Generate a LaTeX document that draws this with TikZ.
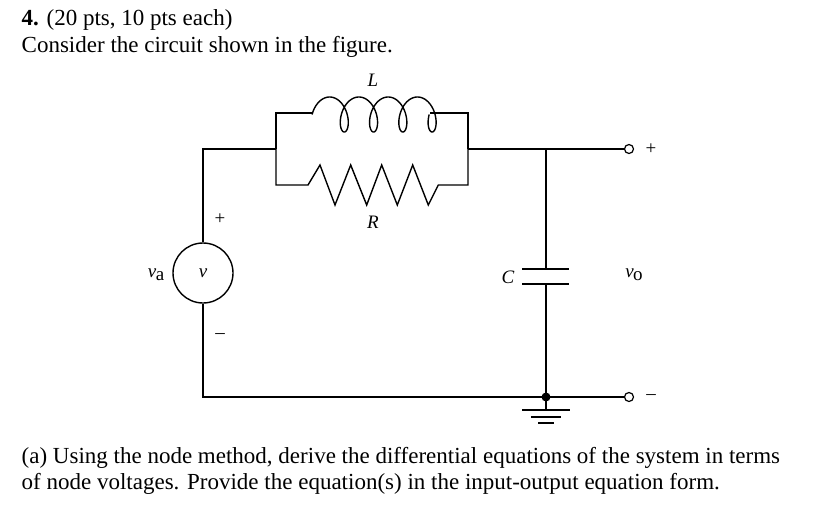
\documentclass[tikz,border=0pt]{standalone}
\usepackage{fontspec}
\setmainfont{Liberation Serif}
\begin{document}
\begin{tikzpicture}[x=1pt,y=-1pt,line width=1.4pt,
  lbl/.style={font=\fontsize{19}{21}\selectfont},
  txt/.style={font=\fontsize{23}{27}\selectfont,anchor=west,inner sep=0}]
\useasboundingbox (0,0) rectangle (817,517);
\node[txt] (t1) at (21,20) {\textbf{4.} (20 pts, 10 pts each)};
\node[txt] (t2) at (21,47) {Consider the circuit shown in the figure.};
\node[txt] (t3) at (21,458) {(a) Using the node method, derive the differential equations of the system in terms};
\node[txt] (t4) at (21,484) {of node voltages. Provide the equation(s) in the input-output equation form.};
% source
\node[circle,draw,minimum size=60pt,inner sep=0,lbl] (src) at (203,273) {\itshape v};
\coordinate (tl) at (203,149);
\coordinate (bl) at (203,397);
\coordinate (pl) at (276,149);
\coordinate (pr) at (468,149);
\coordinate (cx) at (546,149);
\coordinate (gx) at (546,397);
\node[circle,draw,line width=1.2pt,minimum size=9pt,inner sep=0] (op) at (629,149) {};
\node[circle,draw,line width=1.2pt,minimum size=9pt,inner sep=0] (om) at (629,397) {};
\draw (src.north) -- (tl) -- (pl);
\draw (src.south) -- (bl) -- (gx) -- (om.west);
\draw (pr) -- (op.west);
% parallel box
\draw (pl) -- (276,113) -- (313,113);
\draw plot[domain=pi/2:8.5*pi,samples=400,variable=\t] ({315+4.66*(\t-2.2*sin(\t r))},{114.5+17.5*cos(\t r)});
\draw (430,113) -- (468,113) -- (pr);
\draw (pl) -- (276,185) -- (308,185) -- (320,165) -- (335,205) -- (350.7,165) -- (366.7,205) -- (381.7,165) -- (397.3,205) -- (412.7,165) -- (428.3,205) -- (438.3,185) -- (468,185) -- (pr);
% capacitor
\draw (cx) -- (546,269);
\draw (522,269) -- (569,269);
\draw (522,284) -- (569,284);
\draw (546,284) -- (gx);
\fill (gx) circle (4.5pt);
\draw (gx) -- (546,410);
\draw (522,410) -- (570,410);
\draw (531,417) -- (561,417);
\draw (538,423) -- (554,423);
% labels
\node[lbl] (lL) at (373,80) {\itshape L};
\node[lbl] (lR) at (373,222) {\itshape R};
\node[lbl] (lp) at (220,219) {+};
\node[lbl] (lm) at (220,336) {--};
\node[lbl] (lva) at (156,275) {\itshape v\kern-0.5pt\raisebox{-3pt}{\upshape a}};
\node[lbl] (lC) at (508,277) {\itshape C};
\node[lbl] (lvo) at (634,275) {\itshape v\kern-0.5pt\raisebox{-3pt}{\upshape o}};
\node[lbl] (op2) at (651,149) {+};
\node[lbl] (om2) at (651,397) {--};
\end{tikzpicture}
\end{document}
